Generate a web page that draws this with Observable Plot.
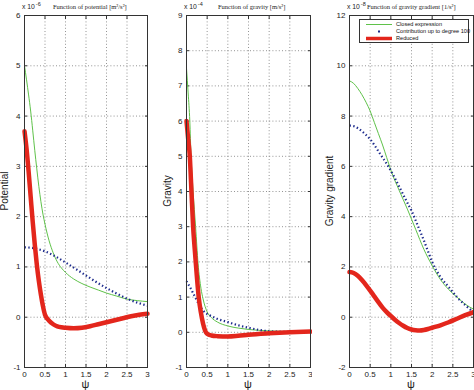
<!DOCTYPE html>
<html><head><meta charset="utf-8">
<script src="https://cdn.jsdelivr.net/npm/d3@7"></script>
<script src="https://cdn.jsdelivr.net/npm/@observablehq/plot@0.6"></script>
<style>
body{margin:0;background:#fff;}
#wrap{position:relative;width:474px;height:390px;font-family:"Liberation Sans",Arial,sans-serif;overflow:hidden;}
.panel{position:absolute;top:0;}
.t{position:absolute;white-space:nowrap;color:#222;line-height:1;}
.title{font-family:"Liberation Serif",serif;font-size:6.5px;top:4px;}
.exp{font-size:6.8px;top:4px;}
.exp sup{font-size:5.5px;position:relative;top:-3.5px;vertical-align:baseline;margin-left:1px;}
.ylab{font-size:10px;transform:translate(-50%,-50%) rotate(-90deg);top:191px;}
.xlab{font-size:11px;top:379px;transform:translateX(-50%);}
.legend{position:absolute;left:359px;top:19px;width:108px;height:22px;border:1px solid #333;background:#fff;font-size:5.6px;color:#111;}
.row{position:absolute;left:0;height:7px;width:108px;}
.row span{position:absolute;left:36px;top:0;white-space:nowrap;line-height:7px;}
.sw{position:absolute;left:6px;width:26px;}
</style></head>
<body>
<div id="wrap"></div>
<script>
// ---- data ----
const xTicks = [0, 0.5, 1, 1.5, 2, 2.5, 3];
const xTickLabels = ["0", "0.5", "1", "1.5", "2", "2.5", "3"];
const legendLabels = ["Closed expression", "Contribution up to degree 100", "Reduced"];
const panelTitles = ["Function of potential [m²/s²]", "Function of gravity [m/s²]", "Function of gravity gradient [1/s²]"];
const yLabels = ["Potential", "Gravity", "Gravity gradient"];
const exponents = ["-6", "-4", "-8"];

// Potential (x 10^-6)
const potY = [-1, 0, 1, 2, 3, 4, 5, 6];
const potClosedX = [0, 0.05, 0.1, 0.15, 0.2, 0.25, 0.3, 0.35, 0.4, 0.45, 0.5, 0.6, 0.7, 0.8, 0.9, 1.0, 1.2, 1.4, 1.6, 1.8, 2.0, 2.25, 2.5, 2.75, 3.0];
const potClosedV = [5.0, 4.72, 4.42, 4.1, 3.72, 3.32, 2.95, 2.6, 2.3, 2.05, 1.85, 1.52, 1.28, 1.1, 0.98, 0.89, 0.76, 0.67, 0.6, 0.54, 0.48, 0.42, 0.36, 0.33, 0.31];
const potDegX = [0, 0.25, 0.5, 0.75, 1.0, 1.25, 1.5, 1.75, 2.0, 2.25, 2.5, 2.75, 3.0];
const potDegV = [1.39, 1.37, 1.31, 1.21, 1.09, 0.96, 0.83, 0.7, 0.58, 0.47, 0.37, 0.29, 0.23];
const potRedX = [0, 0.05, 0.1, 0.15, 0.2, 0.25, 0.3, 0.35, 0.4, 0.45, 0.5, 0.6, 0.7, 0.8, 0.9, 1.0, 1.2, 1.4, 1.6, 1.8, 2.0, 2.2, 2.4, 2.6, 2.8, 3.0];
const potRedV = [3.7, 3.35, 2.9, 2.4, 1.9, 1.45, 1.05, 0.72, 0.45, 0.22, 0.05, -0.07, -0.14, -0.18, -0.2, -0.21, -0.22, -0.21, -0.18, -0.14, -0.1, -0.06, -0.02, 0.02, 0.05, 0.07];

// Gravity (x 10^-4)
const grvY = [-1, 0, 1, 2, 3, 4, 5, 6, 7, 8, 9];
const grvClosedX = [0, 0.04, 0.08, 0.11, 0.16, 0.22, 0.28, 0.35, 0.4, 0.5, 0.6, 0.75, 1.0, 1.25, 1.5, 2.0, 2.5, 3.0];
const grvClosedV = [7.5, 6.8, 6.0, 5.0, 4.0, 3.0, 1.95, 1.25, 0.95, 0.58, 0.42, 0.29, 0.18, 0.12, 0.08, 0.04, 0.02, 0.01];
const grvDegX = [0, 0.1, 0.2, 0.3, 0.4, 0.5, 0.6, 0.75, 1.0, 1.25, 1.5, 1.75, 2.0, 2.5, 3.0];
const grvDegV = [1.45, 1.25, 1.02, 0.8, 0.62, 0.52, 0.46, 0.38, 0.29, 0.2, 0.13, 0.07, 0.03, 0.01, 0.0];
const grvRedX = [0, 0.04, 0.08, 0.12, 0.16, 0.2, 0.25, 0.3, 0.35, 0.4, 0.45, 0.5, 0.6, 0.75, 1.0, 1.25, 1.5, 2.0, 2.5, 3.0];
const grvRedV = [6.0, 5.5, 5.0, 4.0, 3.0, 2.35, 1.6, 0.95, 0.55, 0.25, 0.05, -0.04, -0.09, -0.11, -0.12, -0.1, -0.07, -0.03, 0.0, 0.02];

// Gravity gradient (x 10^-8)
const ggY = [-2, 0, 2, 4, 6, 8, 10, 12];
const ggClosedX = [0, 0.1, 0.2, 0.3, 0.4, 0.5, 0.6, 0.7, 0.8, 0.9, 1.0, 1.2, 1.4, 1.6, 1.8, 2.0, 2.2, 2.4, 2.6, 2.8, 3.0];
const ggClosedV = [9.4, 9.3, 9.1, 8.85, 8.55, 8.2, 7.75, 7.3, 6.85, 6.35, 5.85, 5.05, 4.3, 3.5, 2.7, 2.05, 1.5, 1.1, 0.8, 0.52, 0.32];
const ggDegX = [0, 0.1, 0.2, 0.3, 0.4, 0.5, 0.6, 0.7, 0.8, 0.9, 1.0, 1.2, 1.4, 1.5, 1.6, 1.7, 1.8, 1.9, 2.0, 2.2, 2.4, 2.5, 2.6, 2.8, 3.0];
const ggDegV = [7.62, 7.6, 7.52, 7.4, 7.25, 7.08, 6.85, 6.6, 6.35, 6.1, 5.83, 5.2, 4.55, 4.24, 3.85, 3.45, 3.05, 2.62, 2.2, 1.6, 1.2, 1.0, 0.8, 0.48, 0.2];
const ggRedX = [0, 0.1, 0.2, 0.3, 0.4, 0.5, 0.6, 0.7, 0.8, 0.9, 1.0, 1.1, 1.2, 1.3, 1.4, 1.5, 1.6, 1.7, 1.8, 1.9, 2.0, 2.2, 2.4, 2.6, 2.8, 3.0];
const ggRedV = [1.8, 1.76, 1.65, 1.48, 1.28, 1.06, 0.83, 0.6, 0.38, 0.2, 0.05, -0.1, -0.23, -0.34, -0.43, -0.49, -0.52, -0.53, -0.51, -0.47, -0.42, -0.32, -0.2, -0.06, 0.08, 0.2];

// ---- styles ----
const GREEN = "#5fc24a", BLUE = "#1c2a8c", RED = "#e3261c";

const zip = (xs, vs) => xs.map((x, i) => ({x, y: vs[i]}));

function panel({left, width, marginLeft, marginRight, yTicks, closed, deg, red}) {
  const yDomain = [yTicks[0], yTicks[yTicks.length - 1]];
  const chart = Plot.plot({
    width, height: 390,
    marginLeft, marginRight, marginTop: 15, marginBottom: 23,
    style: {fontFamily: "Liberation Sans, Arial, sans-serif", fontSize: "8px", color: "#222", background: "transparent"},
    x: {domain: [0, 3], ticks: xTicks},
    y: {domain: yDomain, ticks: yTicks},
    marks: [
      Plot.gridX(xTicks, {stroke: "#888", strokeOpacity: 0.9, strokeDasharray: "1,2.2"}),
      Plot.gridY(yTicks, {stroke: "#888", strokeOpacity: 0.9, strokeDasharray: "1,2.2"}),
      Plot.axisX(xTicks, {anchor: "bottom", tickSize: -3, tickPadding: 7, label: null,
        tickFormat: (d) => xTickLabels[xTicks.indexOf(d)], stroke: "#333"}),
      Plot.axisX(xTicks, {anchor: "top", tickSize: -3, label: null, tickFormat: () => "", stroke: "#333"}),
      Plot.axisY(yTicks, {anchor: "left", tickSize: -3, tickPadding: 7, label: null,
        tickFormat: (d) => String(d), stroke: "#333"}),
      Plot.axisY(yTicks, {anchor: "right", tickSize: -3, label: null, tickFormat: () => "", stroke: "#333"}),
      Plot.line(zip(closed[0], closed[1]), {x: "x", y: "y", stroke: GREEN, strokeWidth: 1, curve: "monotone-x"}),
      Plot.line(zip(deg[0], deg[1]), {x: "x", y: "y", stroke: BLUE, strokeWidth: 2.2, strokeDasharray: "1.4,2.4", strokeLinecap: "butt", curve: "monotone-x"}),
      Plot.line(zip(red[0], red[1]), {x: "x", y: "y", stroke: RED, strokeWidth: 4.5, strokeLinecap: "round", curve: "monotone-x"}),
      Plot.frame({stroke: "#333", strokeWidth: 1})
    ]
  });
  chart.classList.add("panel");
  chart.style.left = left + "px";
  return chart;
}

const wrap = document.getElementById("wrap");
wrap.appendChild(panel({left: 0, width: 150, marginLeft: 24, marginRight: 3, yTicks: potY,
  closed: [potClosedX, potClosedV], deg: [potDegX, potDegV], red: [potRedX, potRedV]}));
wrap.appendChild(panel({left: 150, width: 162, marginLeft: 36, marginRight: 2, yTicks: grvY,
  closed: [grvClosedX, grvClosedV], deg: [grvDegX, grvDegV], red: [grvRedX, grvRedV]}));
wrap.appendChild(panel({left: 312, width: 162, marginLeft: 37, marginRight: 1, yTicks: ggY,
  closed: [ggClosedX, ggClosedV], deg: [ggDegX, ggDegV], red: [ggRedX, ggRedV]}));

function addText(cls, html, left) {
  const d = document.createElement("div");
  d.className = "t " + cls;
  d.innerHTML = html;
  d.style.left = left + "px";
  wrap.appendChild(d);
  return d;
}
const frameLefts = [24, 186, 349];
const centers = [85.5, 248, 411];
const titleLefts = [53, 218, 367];
const yLabelX = [5, 168, 330];
for (let i = 0; i < 3; i++) {
  addText("exp", "x 10<sup>" + exponents[i] + "</sup>", frameLefts[i] - 2);
  addText("title", panelTitles[i], titleLefts[i]);
  addText("ylab", yLabels[i], yLabelX[i]);
  addText("xlab", "ψ", centers[i]);
}

// legend
const lg = document.createElement("div");
lg.className = "legend";
const swatches = [
  `<svg class="sw" height="7" style="top:0"><line x1="0" x2="26" y1="3.5" y2="3.5" stroke="${GREEN}" stroke-width="1"/></svg>`,
  `<svg class="sw" height="7" style="top:0"><rect x="12" y="2.5" width="2" height="2" fill="${BLUE}"/></svg>`,
  `<svg class="sw" height="7" style="top:0"><line x1="0" x2="26" y1="3.5" y2="3.5" stroke="${RED}" stroke-width="3.5"/></svg>`
];
legendLabels.forEach((lab, i) => {
  const r = document.createElement("div");
  r.className = "row";
  r.style.top = (1 + i * 7) + "px";
  r.innerHTML = swatches[i] + `<span>${lab}</span>`;
  lg.appendChild(r);
});
wrap.appendChild(lg);
</script>
</body></html>
